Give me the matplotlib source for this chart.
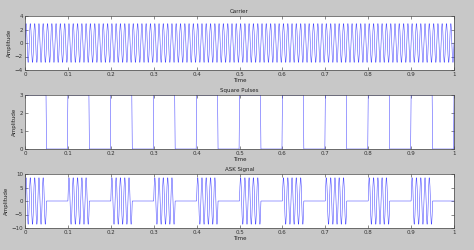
import matplotlib
matplotlib.use("Agg")
import matplotlib.pyplot as plt
import numpy as np

# signal parameters
t_step = 0.001
carrier_amp = 3
carrier_freq = 100
pulse_high = 3
pulse_freq = 10

titles = ["Carrier", "Square Pulses", "ASK Signal"]
y_limits = [(-4, 4), (0, 3), (-10, 10)]
y_ticks = [[-4, -2, 0, 2, 4], [0, 1, 2, 3], [-10, -5, 0, 5, 10]]
x_ticks = [0, 0.1, 0.2, 0.3, 0.4, 0.5, 0.6, 0.7, 0.8, 0.9, 1]
x_labels = ["0", "0.1", "0.2", "0.3", "0.4", "0.5", "0.6", "0.7", "0.8", "0.9", "1"]

t = np.arange(0, 1 + t_step / 2, t_step)
carrier = carrier_amp * np.sin(2 * np.pi * carrier_freq * t)
pulses = np.where((t * pulse_freq) % 1 < 0.5, pulse_high, 0)
ask = carrier * pulses
senales = [carrier, pulses, ask]

fondo = "#c8c8c8"
fig = plt.figure(figsize=(4.74, 2.5), dpi=100, facecolor=fondo)

izq = 25 / 474
ancho = (454 - 25) / 474
alto = 54 / 250
bases = [1 - 70 / 250, 1 - 149 / 250, 1 - 228 / 250]

for i in range(3):
    ax = fig.add_axes([izq, bases[i], ancho, alto])
    ax.plot(t, senales[i], color="#3a3aff", lw=0.35)
    ax.set_xlim(0, 1)
    ax.set_ylim(*y_limits[i])
    ax.set_xticks(x_ticks)
    ax.set_xticklabels(x_labels)
    ax.set_yticks(y_ticks[i])
    ax.tick_params(direction="in", length=2, width=0.4, labelsize=4,
                   pad=1.5, top=True, right=True, colors="#333333")
    for s in ax.spines.values():
        s.set_linewidth(0.5)
        s.set_color("#444444")
    ax.set_title(titles[i], fontsize=4, pad=2.5, color="#222222")
    ax.set_xlabel("Time", fontsize=4, labelpad=1, color="#222222")
    ax.set_ylabel("Amplitude", fontsize=4, labelpad=2, color="#222222")

fig.savefig("out.png", dpi=100, facecolor=fondo)
